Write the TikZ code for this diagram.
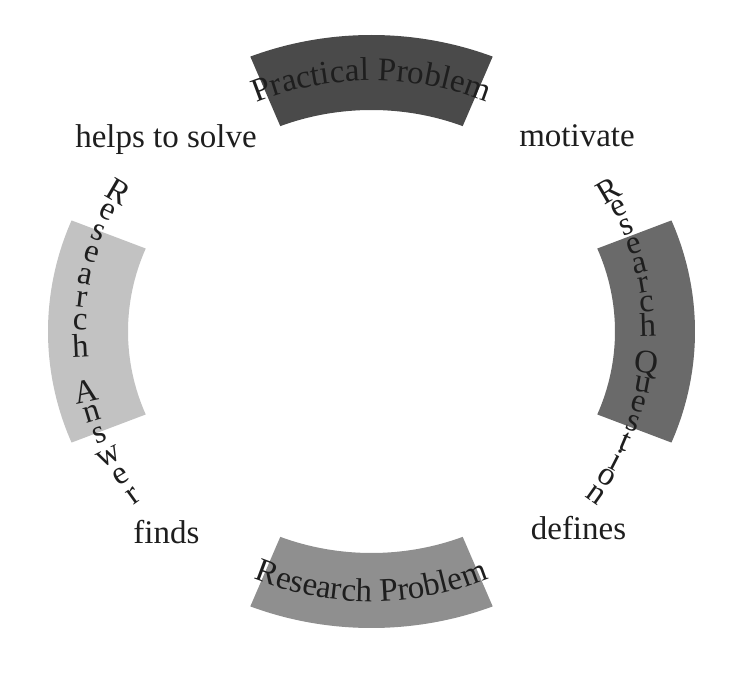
\documentclass[tikz,border=0pt]{standalone}
\usepackage{fontspec}
\setmainfont{Liberation Serif}
\usetikzlibrary{decorations.text}
\newcommand\bigfont{\fontsize{33bp}{36bp}\selectfont}
\definecolor{bandA}{HTML}{4A4A4A}
\definecolor{bandB}{HTML}{6A6A6A}
\definecolor{bandC}{HTML}{8F8F8F}
\definecolor{bandD}{HTML}{C2C2C2}
\definecolor{ink}{HTML}{1E1E1E}
\begin{document}
\begin{tikzpicture}[x=1bp,y=1bp,
  lbl/.style={font=\bigfont, anchor=base, text=ink, inner sep=0pt},
  ltr/.style={font=\bigfont, inner sep=0pt, text=ink},
  arctext/.style={decorate, decoration={text along path, text align=center, text color=ink, text={|\bigfont|#1}}}]
\useasboundingbox (-371.5,-361.5) rectangle (380.5,331.5);
\def\Ao{323.5}\def\Bo{296.5}\def\Ai{243.5}\def\Bi{221.5}
% bands
\foreach \c/\t in {bandA/90, bandB/0, bandC/270, bandD/180}{
  \pgfmathsetmacro\ta{\t-22}
  \pgfmathsetmacro\tb{\t+22}
  \fill[\c] ({\Ao*cos(\ta)},{\Bo*sin(\ta)})
     arc[start angle=\ta, end angle=\tb, x radius=\Ao, y radius=\Bo]
     -- ({\Ai*cos(\tb)},{\Bi*sin(\tb)})
     arc[start angle=\tb, end angle=\ta, x radius=\Ai, y radius=\Bi] -- cycle;
}
% curved texts
\path[arctext={Practical Problem}] (-283.5,-8) arc[start angle=180, end angle=0, x radius=283.5, y radius=259];
\path[arctext={Research Problem}] (-283.5,-11) arc[start angle=180, end angle=360, x radius=283.5, y radius=259];
% side texts
\foreach \ch [count=\k from 0] in {R,e,s,e,a,r,c,h,{},A,n,s,w,e,r}{
  \pgfmathsetmacro\th{149.7+4.71*\k}
  \node[ltr, rotate=\th-180] (ra\k) at ({-7.5+284*cos(\th)},{-1+280*sin(\th)}) {\ch};
}
\foreach \ch [count=\k from 0] in {R,e,s,e,a,r,c,h,{},Q,u,e,s,t,i,o,n}{
  \pgfmathsetmacro\th{30.4-4.11*\k}
  \node[ltr, rotate=\th] (rq\k) at ({-7.5+284*cos(\th)},{-1+280*sin(\th)}) {\ch};
}
% labels
\node[lbl] (helps) at (-205.5,183.5) {helps to solve};
\node[lbl] (motivate) at (205.5,184.5) {motivate};
\node[lbl] (finds) at (-205,-211.5) {finds};
\node[lbl] (defines) at (207,-207.5) {defines};
\end{tikzpicture}
\end{document}
